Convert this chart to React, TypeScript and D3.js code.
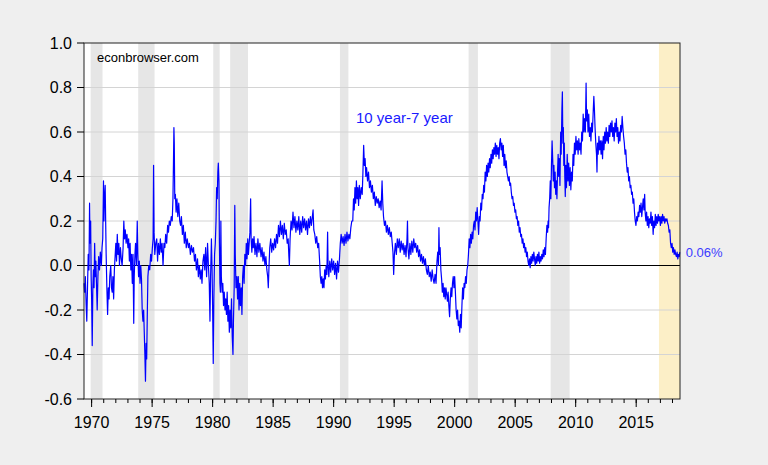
import React from "react";
import * as d3 from "d3";

// [fractional year, spread in percentage points]
const spread1969: [number, number][] = [
  [1969.37,-0.08],[1969.42,-0.12],[1969.48,-0.05],[1969.55,-0.18],[1969.6,-0.25],[1969.66,-0.1],[1969.72,0.05],[1969.78,-0.02],[1969.83,0.28],[1969.87,0.1],[1969.92,0.2],[1969.96,-0.05],[1970.0,-0.15],[1970.05,-0.36],[1970.1,-0.1],[1970.15,-0.02],[1970.2,-0.1],[1970.25,0.1],[1970.3,-0.05],[1970.35,0.02],[1970.4,-0.08],[1970.46,-0.2],[1970.52,-0.05],[1970.58,0.04],[1970.65,-0.02],[1970.72,0.06],[1970.8,0.0],[1970.86,0.08],[1970.92,0.12],[1970.98,0.38],[1971.02,0.2],[1971.06,0.3],[1971.12,0.36],[1971.16,0.2],[1971.2,0.05],[1971.26,-0.1],[1971.32,-0.22],[1971.38,-0.1],[1971.44,-0.15],[1971.5,-0.05],[1971.58,0.0],[1971.64,-0.1],[1971.7,-0.12],[1971.76,-0.05],[1971.82,-0.15],[1971.88,-0.02],[1971.95,0.05],[1972.0,0.1],[1972.06,0.02],[1972.12,0.14],[1972.18,0.05],[1972.25,0.1],[1972.3,0.0],[1972.38,0.08],[1972.45,0.03],[1972.52,0.0],[1972.6,0.08],[1972.66,0.2],[1972.72,0.12],[1972.78,0.16],[1972.85,0.1],[1972.92,0.14],[1973.0,0.08],[1973.06,0.12],[1973.12,0.02],[1973.18,0.1],[1973.24,-0.02],[1973.3,0.05],[1973.36,-0.08],[1973.42,0.05],[1973.48,-0.26],[1973.52,-0.05],[1973.58,0.05],[1973.63,0.1],[1973.7,0.0],[1973.77,0.2],[1973.82,0.05],[1973.88,-0.05],[1973.94,0.02],[1974.0,-0.08],[1974.06,0.0],[1974.12,-0.06],[1974.18,-0.2],[1974.24,-0.25],[1974.3,-0.2],[1974.35,-0.3],[1974.4,-0.4],[1974.45,-0.52],[1974.5,-0.35],[1974.55,-0.42],[1974.6,-0.22],[1974.65,-0.05],[1974.72,0.0],[1974.8,-0.02],[1974.88,0.05],[1974.95,0.02],[1975.02,0.08],[1975.08,0.12],[1975.12,0.45],[1975.16,0.15],[1975.22,0.05],[1975.3,0.1],[1975.38,0.12],[1975.45,0.02],[1975.52,0.1],[1975.6,0.05],[1975.68,0.12],[1975.75,0.06],[1975.82,0.1],[1975.9,0.0],[1975.98,0.1],[1976.05,0.08],[1976.12,0.14],[1976.2,0.1],[1976.28,0.18],[1976.35,0.15],[1976.42,0.2],[1976.5,0.18],[1976.58,0.22],[1976.66,0.2],[1976.72,0.3],[1976.76,0.45],[1976.8,0.62],[1976.83,0.55],[1976.87,0.3],[1976.92,0.32],[1976.98,0.24],[1977.05,0.3],[1977.12,0.22],[1977.2,0.28],[1977.28,0.2],[1977.35,0.18],[1977.42,0.22],[1977.5,0.14],[1977.58,0.18],[1977.66,0.1],[1977.74,0.15],[1977.82,0.08],[1977.9,0.12],[1978.0,0.08],[1978.08,0.1],[1978.16,0.05],[1978.25,0.09],[1978.33,0.06],[1978.42,0.08],[1978.5,0.02],[1978.58,0.05],[1978.66,-0.02],[1978.75,0.03],[1978.82,-0.05],[1978.9,0.0],[1978.98,-0.06],[1979.05,-0.02],[1979.12,-0.08],[1979.2,0.02],
];
const spread1979: [number, number][] = [
  [1979.28,0.05],[1979.35,-0.02],[1979.42,0.08],[1979.5,-0.05],[1979.58,0.1],[1979.65,0.0],[1979.72,-0.08],[1979.78,-0.25],[1979.83,-0.05],[1979.9,0.12],[1979.95,0.0],[1980.0,-0.2],[1980.05,-0.44],[1980.1,-0.15],[1980.16,0.05],[1980.22,0.1],[1980.28,0.2],[1980.33,0.35],[1980.38,0.3],[1980.43,0.42],[1980.47,0.46],[1980.52,0.38],[1980.56,0.1],[1980.6,-0.08],[1980.64,-0.12],[1980.68,0.2],[1980.72,-0.05],[1980.78,-0.12],[1980.84,-0.08],[1980.9,-0.18],[1980.96,-0.12],[1981.02,-0.2],[1981.08,-0.15],[1981.14,-0.22],[1981.2,-0.12],[1981.26,-0.25],[1981.32,-0.18],[1981.38,-0.3],[1981.44,-0.2],[1981.5,-0.28],[1981.56,-0.15],[1981.62,-0.32],[1981.68,-0.4],[1981.72,-0.25],[1981.78,-0.1],[1981.83,0.27],[1981.87,0.05],[1981.93,-0.1],[1982.0,-0.05],[1982.06,-0.15],[1982.12,-0.05],[1982.18,-0.2],[1982.24,-0.08],[1982.3,-0.18],[1982.36,-0.1],[1982.42,-0.22],[1982.48,-0.05],[1982.54,0.0],[1982.6,-0.08],[1982.66,0.05],[1982.72,0.0],[1982.78,0.1],[1982.84,0.03],[1982.9,0.12],[1982.96,0.05],[1983.02,0.1],[1983.08,0.15],[1983.14,0.3],[1983.18,0.12],[1983.24,0.06],[1983.3,0.12],[1983.36,0.08],[1983.42,0.13],[1983.5,0.05],[1983.58,0.1],[1983.66,0.04],[1983.74,0.12],[1983.82,0.06],[1983.9,0.1],[1984.0,0.04],[1984.08,0.08],[1984.16,0.02],[1984.24,0.06],[1984.32,0.0],[1984.4,0.04],[1984.48,-0.02],[1984.55,-0.05],[1984.6,-0.1],[1984.66,0.0],[1984.72,0.08],[1984.8,0.12],[1984.88,0.06],[1984.96,0.1],[1985.04,0.07],[1985.12,0.12],[1985.2,0.08],[1985.28,0.14],[1985.36,0.1],[1985.44,0.18],[1985.52,0.13],[1985.6,0.2],[1985.68,0.14],[1985.76,0.18],[1985.84,0.12],[1985.92,0.19],[1986.0,0.14],[1986.08,0.16],[1986.16,0.1],[1986.24,0.12],[1986.3,0.04],[1986.34,0.0],[1986.4,0.12],[1986.48,0.2],[1986.56,0.16],[1986.64,0.24],[1986.72,0.17],[1986.8,0.22],[1986.88,0.15],[1986.96,0.2],[1987.04,0.16],[1987.12,0.22],[1987.2,0.14],[1987.28,0.2],[1987.36,0.15],[1987.44,0.22],[1987.52,0.17],[1987.6,0.21],[1987.68,0.16],[1987.76,0.2],[1987.84,0.14],[1987.92,0.21],[1988.0,0.17],[1988.08,0.22],[1988.16,0.18],[1988.24,0.22],[1988.3,0.25],[1988.36,0.16],[1988.44,0.14],[1988.52,0.1],[1988.6,0.13],[1988.68,0.08],[1988.76,0.1],[1988.84,0.02],[1988.9,-0.05],[1988.96,-0.08],[1989.02,-0.05],[1989.08,-0.1],[1989.14,-0.06],[1989.2,-0.1],
];
const spread1989: [number, number][] = [
  [1989.26,-0.02],[1989.32,-0.06],[1989.38,0.0],[1989.44,-0.04],[1989.5,0.15],[1989.54,0.0],[1989.6,-0.05],[1989.68,0.02],[1989.76,-0.03],[1989.84,0.03],[1989.92,-0.02],[1990.0,0.02],[1990.08,-0.04],[1990.16,0.01],[1990.24,-0.06],[1990.32,0.02],[1990.4,-0.03],[1990.48,0.03],[1990.55,0.1],[1990.62,0.14],[1990.7,0.1],[1990.78,0.13],[1990.86,0.09],[1990.94,0.14],[1991.02,0.1],[1991.1,0.15],[1991.18,0.11],[1991.26,0.14],[1991.34,0.12],[1991.42,0.17],[1991.5,0.2],[1991.58,0.2],[1991.64,0.3],[1991.7,0.25],[1991.76,0.35],[1991.82,0.28],[1991.88,0.38],[1991.94,0.3],[1992.0,0.35],[1992.06,0.27],[1992.12,0.36],[1992.2,0.3],[1992.28,0.35],[1992.36,0.32],[1992.42,0.42],[1992.48,0.54],[1992.54,0.45],[1992.6,0.48],[1992.66,0.4],[1992.72,0.44],[1992.8,0.38],[1992.88,0.42],[1992.96,0.35],[1993.04,0.38],[1993.12,0.33],[1993.2,0.36],[1993.28,0.3],[1993.36,0.33],[1993.44,0.27],[1993.52,0.31],[1993.6,0.28],[1993.68,0.3],[1993.76,0.26],[1993.84,0.29],[1993.92,0.25],[1994.0,0.38],[1994.06,0.28],[1994.12,0.22],[1994.2,0.18],[1994.28,0.2],[1994.36,0.15],[1994.44,0.18],[1994.52,0.14],[1994.6,0.17],[1994.68,0.13],[1994.76,0.15],[1994.84,0.1],[1994.9,0.06],[1994.96,-0.04],[1995.02,0.05],[1995.1,0.1],[1995.18,0.05],[1995.26,0.12],[1995.34,0.08],[1995.42,0.12],[1995.5,0.06],[1995.58,0.11],[1995.66,0.07],[1995.74,0.1],[1995.82,0.05],[1995.9,0.09],[1995.98,0.04],[1996.06,0.12],[1996.1,0.2],[1996.14,0.08],[1996.22,0.03],[1996.3,0.1],[1996.38,0.05],[1996.46,0.11],[1996.54,0.06],[1996.62,0.12],[1996.7,0.08],[1996.78,0.1],[1996.86,0.06],[1996.94,0.09],[1997.02,0.04],[1997.1,0.07],[1997.18,0.02],[1997.26,0.05],[1997.34,0.01],[1997.42,0.04],[1997.5,0.0],[1997.58,0.03],[1997.66,-0.02],[1997.74,-0.04],[1997.82,0.0],[1997.9,-0.05],[1997.98,-0.03],[1998.06,-0.07],[1998.14,-0.02],[1998.22,-0.06],[1998.3,-0.08],[1998.38,-0.04],[1998.46,-0.08],[1998.54,0.02],[1998.6,0.06],[1998.66,0.0],[1998.7,0.17],[1998.74,0.05],[1998.8,0.08],[1998.86,-0.02],
];
const spread1999: [number, number][] = [
  [1998.92,-0.06],[1998.98,-0.12],[1999.04,-0.08],[1999.1,-0.14],[1999.16,-0.1],[1999.22,-0.15],[1999.28,-0.1],[1999.34,-0.13],[1999.4,-0.16],[1999.46,-0.12],[1999.52,-0.18],[1999.58,-0.23],[1999.64,-0.15],[1999.7,-0.1],[1999.76,-0.14],[1999.82,-0.08],[1999.88,-0.05],[1999.94,-0.1],[2000.0,-0.05],[2000.06,-0.12],[2000.12,-0.2],[2000.18,-0.24],[2000.24,-0.2],[2000.3,-0.27],[2000.36,-0.25],[2000.42,-0.3],[2000.48,-0.22],[2000.54,-0.28],[2000.6,-0.18],[2000.66,-0.1],[2000.72,-0.15],[2000.78,-0.08],[2000.84,-0.1],[2000.9,-0.05],[2000.96,-0.08],[2001.02,-0.02],[2001.08,0.0],[2001.14,0.05],[2001.2,0.12],[2001.26,0.08],[2001.32,0.14],[2001.38,0.1],[2001.44,0.15],[2001.5,0.12],[2001.56,0.18],[2001.62,0.2],[2001.68,0.16],[2001.74,0.24],[2001.8,0.2],[2001.86,0.26],[2001.92,0.2],[2001.98,0.14],[2002.04,0.22],[2002.1,0.2],[2002.16,0.28],[2002.22,0.25],[2002.28,0.32],[2002.34,0.3],[2002.4,0.36],[2002.46,0.33],[2002.52,0.42],[2002.58,0.38],[2002.64,0.45],[2002.7,0.4],[2002.76,0.46],[2002.82,0.42],[2002.88,0.48],[2002.94,0.44],[2003.0,0.5],[2003.06,0.46],[2003.12,0.52],[2003.18,0.48],[2003.24,0.53],[2003.3,0.5],[2003.36,0.55],[2003.42,0.49],[2003.48,0.54],[2003.54,0.5],[2003.6,0.53],[2003.66,0.48],[2003.72,0.55],[2003.78,0.57],[2003.84,0.52],[2003.9,0.55],[2003.96,0.49],[2004.02,0.54],[2004.08,0.45],[2004.14,0.5],[2004.2,0.44],[2004.26,0.47],[2004.32,0.42],[2004.38,0.4],[2004.44,0.38],[2004.5,0.4],[2004.56,0.36],[2004.62,0.37],[2004.68,0.33],[2004.74,0.3],[2004.8,0.31],[2004.86,0.27],[2004.92,0.28],[2004.98,0.24],[2005.04,0.25],[2005.1,0.21],[2005.16,0.22],[2005.22,0.18],[2005.28,0.2],[2005.34,0.15],[2005.4,0.17],[2005.46,0.13],[2005.52,0.14],[2005.58,0.1],[2005.64,0.12],[2005.7,0.08],[2005.76,0.1],[2005.82,0.06],[2005.88,0.08],[2005.94,0.04],[2006.0,0.06],[2006.06,0.02],[2006.12,0.0],[2006.18,0.03],[2006.24,-0.01],[2006.3,0.04],[2006.36,0.01],[2006.42,0.05],[2006.48,0.02],[2006.54,0.06],[2006.6,0.03],[2006.66,0.0],[2006.72,0.04],[2006.78,0.01],[2006.84,0.05],[2006.9,0.02],[2006.96,0.06],[2007.02,0.01],[2007.08,0.04],[2007.14,0.02],[2007.2,0.05],[2007.26,0.03],[2007.32,0.07],[2007.38,0.04],[2007.44,0.08],[2007.5,0.05],[2007.56,0.12],[2007.62,0.18],[2007.68,0.15],[2007.72,0.2],[2007.76,0.17],[2007.8,0.26],[2007.85,0.3],[2007.9,0.38],[2007.95,0.3],
];
const spread2008: [number, number][] = [
  [2008.0,0.45],[2008.05,0.56],[2008.1,0.48],[2008.15,0.38],[2008.2,0.45],[2008.25,0.35],[2008.3,0.42],[2008.35,0.32],[2008.4,0.38],[2008.45,0.3],[2008.5,0.42],[2008.55,0.5],[2008.6,0.4],[2008.65,0.48],[2008.7,0.36],[2008.76,0.6],[2008.8,0.5],[2008.86,0.7],[2008.9,0.78],[2008.94,0.55],[2008.98,0.62],[2009.02,0.45],[2009.06,0.55],[2009.1,0.4],[2009.14,0.31],[2009.18,0.45],[2009.24,0.35],[2009.3,0.5],[2009.36,0.38],[2009.42,0.46],[2009.48,0.36],[2009.54,0.44],[2009.6,0.34],[2009.66,0.42],[2009.72,0.38],[2009.78,0.5],[2009.84,0.45],[2009.9,0.55],[2009.96,0.5],[2010.02,0.58],[2010.08,0.52],[2010.14,0.56],[2010.2,0.5],[2010.26,0.57],[2010.32,0.52],[2010.38,0.55],[2010.44,0.5],[2010.5,0.6],[2010.56,0.56],[2010.62,0.68],[2010.68,0.6],[2010.74,0.66],[2010.8,0.6],[2010.86,0.82],[2010.9,0.65],[2010.96,0.7],[2011.02,0.6],[2011.08,0.68],[2011.14,0.58],[2011.2,0.62],[2011.26,0.56],[2011.32,0.64],[2011.38,0.6],[2011.44,0.68],[2011.5,0.76],[2011.55,0.7],[2011.6,0.62],[2011.66,0.55],[2011.72,0.5],[2011.76,0.42],[2011.8,0.55],[2011.86,0.5],[2011.92,0.58],[2011.98,0.52],[2012.04,0.56],[2012.1,0.5],[2012.16,0.56],[2012.22,0.48],[2012.28,0.58],[2012.34,0.52],[2012.4,0.6],[2012.46,0.55],[2012.52,0.62],[2012.58,0.56],[2012.64,0.6],[2012.7,0.55],[2012.76,0.63],[2012.82,0.58],[2012.88,0.64],[2012.94,0.6],[2013.0,0.65],[2013.06,0.58],[2013.12,0.62],[2013.18,0.56],[2013.24,0.64],[2013.3,0.6],[2013.36,0.66],[2013.42,0.58],[2013.48,0.62],[2013.54,0.55],[2013.6,0.6],[2013.66,0.56],[2013.72,0.63],[2013.78,0.6],[2013.84,0.67],[2013.9,0.62],[2013.96,0.58],[2014.02,0.55],[2014.08,0.5],[2014.14,0.52],[2014.2,0.46],[2014.26,0.42],[2014.32,0.44],[2014.38,0.38],[2014.44,0.4],[2014.5,0.35],[2014.56,0.36],[2014.62,0.32],[2014.68,0.33],[2014.74,0.28],[2014.8,0.3],[2014.86,0.24],[2014.92,0.2],[2014.98,0.18],[2015.04,0.22],[2015.1,0.2],[2015.16,0.24],[2015.22,0.22],[2015.28,0.27],[2015.34,0.24],[2015.4,0.28],[2015.46,0.22],[2015.52,0.26],[2015.58,0.3],[2015.64,0.25],[2015.7,0.32],[2015.74,0.24],[2015.8,0.2],[2015.86,0.24],[2015.92,0.18],[2015.98,0.22],[2016.04,0.17],[2016.1,0.21],[2016.16,0.19],[2016.22,0.24],[2016.28,0.18],[2016.34,0.22],[2016.4,0.14],[2016.46,0.2],[2016.52,0.17],[2016.58,0.23],[2016.64,0.18],[2016.7,0.22],[2016.76,0.19],[2016.82,0.23],[2016.88,0.2],[2016.94,0.22],[2017.0,0.18],[2017.06,0.22],[2017.12,0.19],[2017.18,0.23],[2017.24,0.2],[2017.3,0.22],[2017.36,0.19],[2017.42,0.21],[2017.48,0.2],[2017.54,0.21],[2017.6,0.19],[2017.66,0.18],[2017.72,0.15],[2017.78,0.16],[2017.84,0.1],[2017.9,0.08],[2017.96,0.1],[2018.02,0.06],[2018.08,0.08],[2018.14,0.05],[2018.2,0.07],[2018.26,0.05],[2018.32,0.04],[2018.38,0.06],[2018.44,0.03],[2018.5,0.05],[2018.56,0.04],[2018.6,0.06],
];

const recessions: [number, number][] = [
  [1969.92, 1970.9], [1973.85, 1975.2], [1980.05, 1980.58], [1981.45, 1982.92],
  [1990.52, 1991.22], [2001.15, 2001.92], [2007.93, 2009.5],
];
const trumpPeriod: [number, number] = [2016.88, 2018.62];
const yTicks = [-0.6, -0.4, -0.2, 0.0, 0.2, 0.4, 0.6, 0.8, 1.0];
const xMajorTicks = [1970, 1975, 1980, 1985, 1990, 1995, 2000, 2005, 2010, 2015];
const xMinorTicks = d3.range(1970, 2019);
const seriesLabel = "10 year-7 year";
const lastLabel = "0.06%";
const sourceLabel = "econbrowser.com";

export default function App() {
  const W = 768, H = 465;
  const L = 84, R = 680, T = 43, B = 399;
  const x = d3.scaleLinear().domain([1969.37, 2018.62]).range([L, R]);
  const y = d3.scaleLinear().domain([-0.6, 1.0]).range([B, T]);
  const data = [...spread1969, ...spread1979, ...spread1989, ...spread1999, ...spread2008];
  const line = d3.line<[number, number]>().x(d => x(d[0])).y(d => y(d[1]));
  const font = "Arial, 'Liberation Sans', sans-serif";
  const last = data[data.length - 1];
  return (
    <svg width={W} height={H} style={{ position: "absolute", left: 0, top: 0, display: "block" }} fontFamily={font}>
      <rect x={0} y={0} width={W} height={H} fill="#EFEFEF" />
      <rect x={L} y={T} width={R - L} height={B - T} fill="#FFFFFF" />
      {recessions.map(([a, b], i) => (
        <rect key={i} x={x(a)} y={T} width={x(b) - x(a)} height={B - T} fill="#E6E6E6" />
      ))}
      <rect x={x(trumpPeriod[0])} y={T} width={x(trumpPeriod[1]) - x(trumpPeriod[0])} height={B - T} fill="#FCEFC7" />
      {yTicks.filter(v => v !== 0 && v !== 1 && v !== -0.6).map(v => (
        <line key={v} x1={L} x2={R} y1={y(v)} y2={y(v)} stroke="#D4D4D4" strokeWidth={1} />
      ))}
      <line x1={L} x2={R} y1={y(0)} y2={y(0)} stroke="#000" strokeWidth={1} />
      <path d={line(data) || ""} fill="none" stroke="#0000FF" strokeWidth={1.2} strokeLinejoin="round" />
      <rect x={L} y={T} width={R - L} height={B - T} fill="none" stroke="#222" strokeWidth={1} />
      {yTicks.map(v => (
        <g key={v}>
          <line x1={L - 7} x2={L} y1={y(v)} y2={y(v)} stroke="#000" />
          <text x={72} y={y(v)} dy="0.36em" textAnchor="end" fontSize={16} fill="#000">{v.toFixed(1)}</text>
        </g>
      ))}
      {xMinorTicks.map(t => (
        <line key={t} x1={x(t)} x2={x(t)} y1={B} y2={B + 4} stroke="#000" />
      ))}
      {xMajorTicks.map(t => (
        <g key={t}>
          <line x1={x(t)} x2={x(t)} y1={B} y2={B + 8} stroke="#000" />
          <text x={x(t)} y={428} textAnchor="middle" fontSize={16} fill="#000">{t}</text>
        </g>
      ))}
      <text x={97} y={62} fontSize={13} fill="#000">{sourceLabel}</text>
      <text x={356} y={123} fontSize={15} fill="#1A1AFF">{seriesLabel}</text>
      <text x={x(last[0]) + 6} y={y(last[1])} dy="0.36em" fontSize={13} fill="#3B3BFF">{lastLabel}</text>
    </svg>
  );
}
